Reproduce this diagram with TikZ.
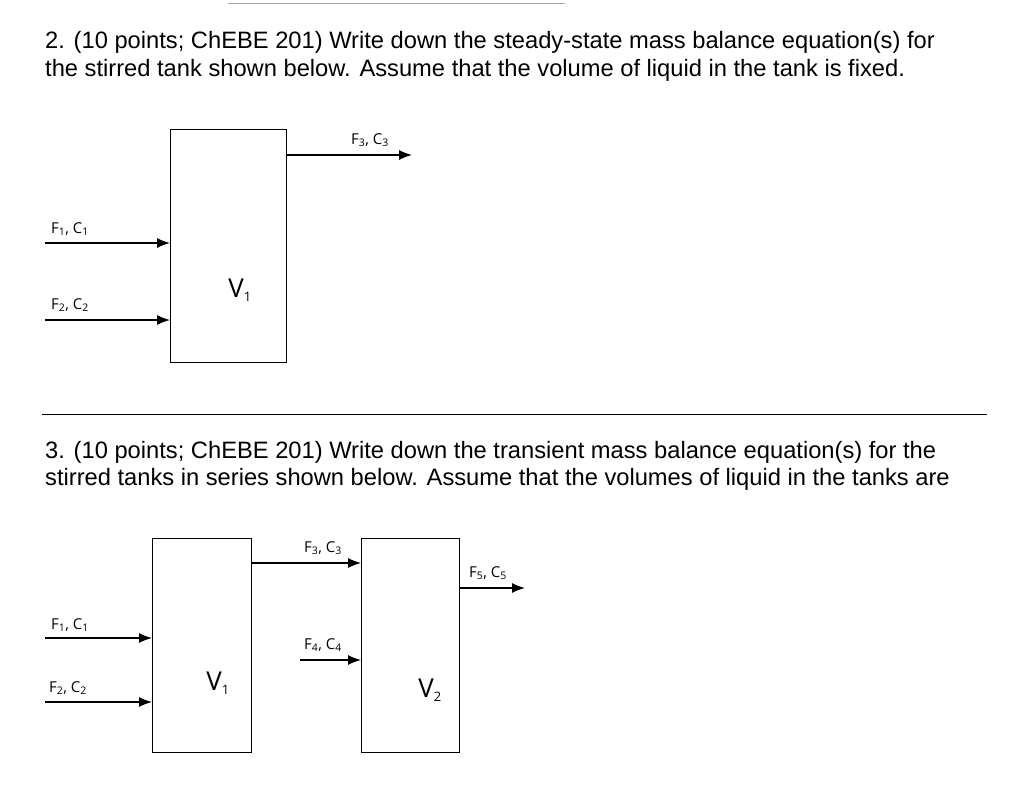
\documentclass[tikz,border=0pt]{standalone}
\usepackage{fontspec}
\setmainfont{Liberation Sans}
\newfontfamily\lblfont{Open Sans}
\usetikzlibrary{arrows.meta}
\begin{document}
\begin{tikzpicture}[x=1pt,y=-1pt,
  tank/.style={draw,line width=1.2pt},
  flow/.style={line width=1.3pt,-{Latex[length=13pt,width=10pt]}},
  lbl/.style={font=\lblfont\fontsize{15}{15}\selectfont,inner sep=0pt},
  vol/.style={font=\lblfont\fontsize{26}{26}\selectfont,inner sep=0pt},
  q/.style={font=\fontsize{23.7}{28}\selectfont,anchor=base west,inner sep=0pt}]
\useasboundingbox (0,0) rectangle (1024,811);
\draw[gray!70,line width=0.8pt] (228,3) -- (565,3);
\node[q] (t1) at (45,48) {2. (10 points; ChEBE 201) Write down the steady-state mass balance equation(s) for};
\node[q] (t2) at (45,76) {the stirred tank shown below. Assume that the volume of liquid in the tank is fixed.};
% tank 1
\node[tank,minimum width=116pt,minimum height=233pt,anchor=north west] (A) at (170,129) {};
\coordinate (a3) at (286,155);
\coordinate (a3e) at (412,155);
\draw[flow] (a3) -- (a3e);
\node[lbl] (la3) at (370,140) {F\textsubscript{3}, C\textsubscript{3}};
\coordinate (a1s) at (45,243); \coordinate (a1) at (170,243);
\draw[flow] (a1s) -- (a1);
\node[lbl] (la1) at (70,229) {F\textsubscript{1}, C\textsubscript{1}};
\coordinate (a2s) at (45,320); \coordinate (a2) at (170,320);
\draw[flow] (a2s) -- (a2);
\node[lbl] (la2) at (70,305) {F\textsubscript{2}, C\textsubscript{2}};
\node[vol] (V1a) at (240,290) {V\textsubscript{\fontsize{13}{13}\selectfont 1}};
\draw[line width=0.8pt] (42,414) -- (987,414);
\node[q] (t3) at (45,458) {3. (10 points; ChEBE 201) Write down the transient mass balance equation(s) for the};
\node[q] (t4) at (45,485) {stirred tanks in series shown below. Assume that the volumes of liquid in the tanks are};
% tanks in series
\node[tank,minimum width=99pt,minimum height=214pt,anchor=north west] (B) at (152,538) {};
\node[tank,minimum width=98pt,minimum height=214pt,anchor=north west] (C) at (361,538) {};
\coordinate (b3) at (251,563); \coordinate (c3) at (361,563);
\draw[flow] (b3) -- (c3);
\node[lbl] (lb3) at (323,548) {F\textsubscript{3}, C\textsubscript{3}};
\coordinate (c4s) at (300,660); \coordinate (c4) at (361,660);
\draw[flow] (c4s) -- (c4);
\node[lbl] (lc4) at (323,645) {F\textsubscript{4}, C\textsubscript{4}};
\coordinate (c5) at (459,588); \coordinate (c5e) at (525,588);
\draw[flow] (c5) -- (c5e);
\node[lbl] (lc5) at (488,573) {F\textsubscript{5}, C\textsubscript{5}};
\coordinate (b1s) at (45,638); \coordinate (b1) at (152,638);
\draw[flow] (b1s) -- (b1);
\node[lbl] (lb1) at (70,625) {F\textsubscript{1}, C\textsubscript{1}};
\coordinate (b2s) at (45,702); \coordinate (b2) at (152,702);
\draw[flow] (b2s) -- (b2);
\node[lbl] (lb2) at (68,688) {F\textsubscript{2}, C\textsubscript{2}};
\node[vol] (V1b) at (218,683) {V\textsubscript{\fontsize{13}{13}\selectfont 1}};
\node[vol] (V2) at (430,690) {V\textsubscript{\fontsize{13}{13}\selectfont 2}};
\end{tikzpicture}
\end{document}
